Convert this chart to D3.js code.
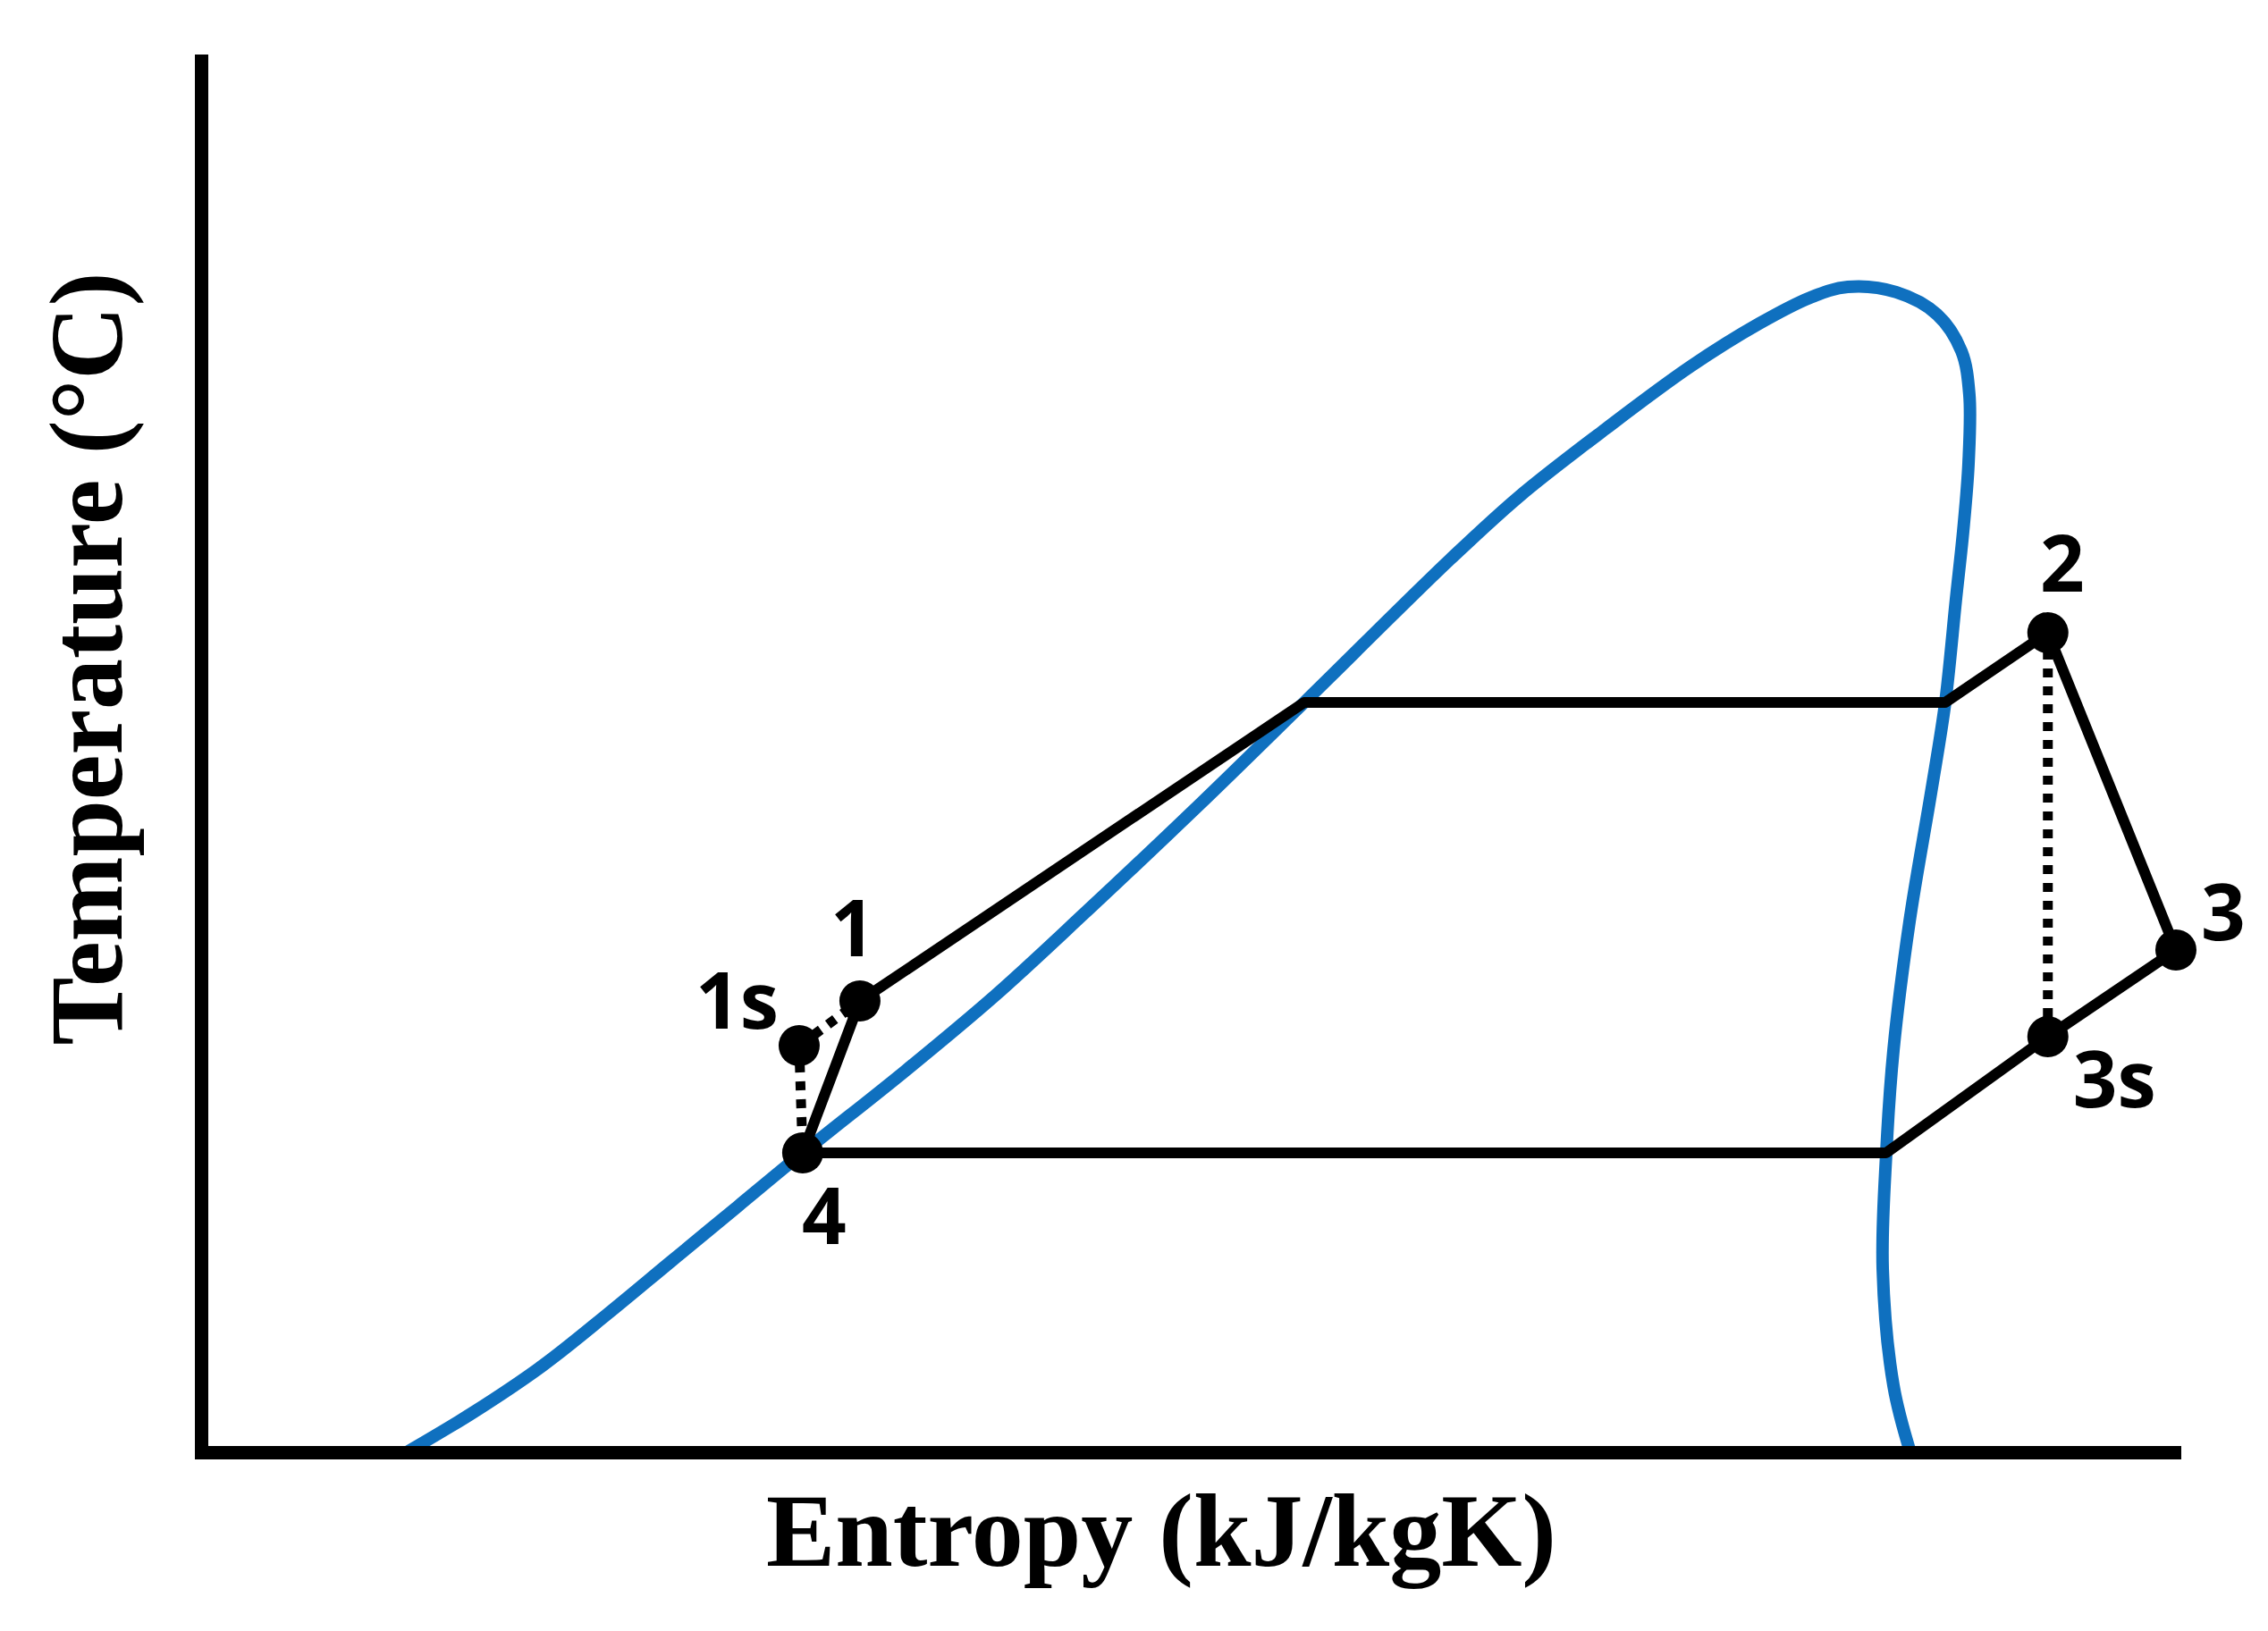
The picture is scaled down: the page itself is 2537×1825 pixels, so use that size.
<!DOCTYPE html>
<html>
<head>
<meta charset="utf-8">
<script src="https://cdn.jsdelivr.net/npm/d3@7"></script>
<style>
  body { margin: 0; background: #fff; }
</style>
</head>
<body>
<div id="chart"></div>
<script>
// T-s diagram, values (no ticks, so arbitrary units: axis origin = 0, ends = 100)

// saturation dome (liquid line up to the top, then vapour line down)
var domeEntropy = [10.42, 13.82, 17.31, 20.62, 23.79, 27.19, 30.49, 35.70, 40.24, 44.77, 50.52, 55.91, 63.30, 66.83, 71.18, 75.49, 78.98,
  81.56, 83.46, 85.91, 87.99, 89.22, 89.62, 89.58, 89.31, 88.94, 88.40, 87.68, 86.59, 85.78, 85.41, 85.23, 85.78, 86.63];
var domeTemp = [0, 2.89, 6.23, 9.96, 13.68, 17.66, 21.52, 27.42, 32.82, 38.73, 46.44, 53.89, 64.16, 68.72, 73.54, 78.03, 81.12,
  82.98, 83.75, 83.37, 81.76, 79.13, 76.04, 71.10, 66.22, 61.27, 53.89, 47.40, 38.15, 28.97, 21.52, 13.17, 4.75, 0];

// state points
var stateLabels = ["1", "1s", "2", "3", "3s", "4"];
var stateEntropy = [33.39, 30.31, 93.6, 100.09, 93.6, 30.49];
var stateTemp = [32.43, 29.22, 58.90, 36.10, 29.87, 21.52];

// real cycle: 4 -> 1 -> evaporator -> 2 -> 3 -> 3s -> condenser -> 4
var cycleEntropy = [30.49, 33.39, 55.91, 88.40, 93.6, 100.09, 93.6, 85.41, 30.49];
var cycleTemp = [21.52, 32.43, 53.89, 53.89, 58.90, 36.10, 29.87, 21.52, 21.52];

// isentropic (ideal) links, drawn dotted
var idealLinks = [["1s", "1"], ["1s", "4"], ["2", "3s"]];

var svgWidth = 2537;
var svgHeight = 1825;

var svg = d3.select("#chart")
  .append("svg")
  .attr("width", svgWidth)
  .attr("height", svgHeight)
  .style("background", "#fff");

var x = d3.scaleLinear().domain([0, 100]).range([225, 2432]);
var y = d3.scaleLinear().domain([0, 100]).range([1625, 68]);

// dome
var dome = domeEntropy.map((s, i) => [s, domeTemp[i]]);
var domeLine = d3.line()
  .x(d => x(d[0]))
  .y(d => y(d[1]))
  .curve(d3.curveCatmullRom.alpha(0.5));

svg.append("path")
  .datum(dome)
  .attr("d", domeLine)
  .attr("fill", "none")
  .attr("stroke", "#0f70bf")
  .attr("stroke-width", 14);

// cycle
var cycle = cycleEntropy.map((s, i) => [s, cycleTemp[i]]);
var cycleLine = d3.line()
  .x(d => x(d[0]))
  .y(d => y(d[1]));

svg.append("path")
  .datum(cycle)
  .attr("d", cycleLine)
  .attr("fill", "none")
  .attr("stroke", "#000")
  .attr("stroke-width", 12)
  .attr("stroke-linejoin", "round");

var states = stateLabels.map((name, i) => ({ name: name, s: stateEntropy[i], t: stateTemp[i] }));
var byName = {};
states.forEach(d => { byName[d.name] = d; });

svg.selectAll(".ideal")
  .data(idealLinks)
  .enter()
  .append("line")
  .attr("class", "ideal")
  .attr("x1", d => x(byName[d[0]].s))
  .attr("y1", d => y(byName[d[0]].t))
  .attr("x2", d => x(byName[d[1]].s))
  .attr("y2", d => y(byName[d[1]].t))
  .attr("stroke", "#000")
  .attr("stroke-width", 11)
  .attr("stroke-dasharray", "10,10");

// markers
svg.selectAll(".state")
  .data(states)
  .enter()
  .append("circle")
  .attr("class", "state")
  .attr("cx", d => x(d.s))
  .attr("cy", d => y(d.t))
  .attr("r", 23)
  .attr("fill", "#000");

// label placement relative to each marker
var labelStyle = {
  "1":  { dx: -8,  dy: -50, anchor: "middle" },
  "1s": { dx: -23, dy: -19, anchor: "end" },
  "2":  { dx: 16,  dy: -46, anchor: "middle" },
  "3":  { dx: 28,  dy: -11, anchor: "start" },
  "3s": { dx: 28,  dy: 79,  anchor: "start" },
  "4":  { dx: 24,  dy: 102, anchor: "middle" }
};

svg.selectAll(".stateLabel")
  .data(states)
  .enter()
  .append("text")
  .attr("class", "stateLabel")
  .attr("x", d => x(d.s) + labelStyle[d.name].dx)
  .attr("y", d => y(d.t) + labelStyle[d.name].dy)
  .attr("text-anchor", d => labelStyle[d.name].anchor)
  .attr("font-family", "'Open Sans', 'Noto Sans', sans-serif")
  .attr("font-weight", 700)
  .attr("font-size", 87)
  .attr("fill", "#000")
  .text(d => d.name);

// axes, no ticks
svg.append("g")
  .attr("transform", `translate(0, ${y(0)})`)
  .call(d3.axisBottom(x).tickValues([]).tickSizeOuter(0));
svg.append("g")
  .attr("transform", `translate(${x(0)}, 0)`)
  .call(d3.axisLeft(y).tickValues([]).tickSizeOuter(0));

svg.selectAll(".domain")
  .attr("stroke", "#000")
  .attr("stroke-width", 15)
  .attr("stroke-linecap", "square");

// titles
svg.append("text")
  .attr("x", 1299)
  .attr("y", 1752)
  .attr("text-anchor", "middle")
  .attr("font-family", "'Liberation Serif', 'Times New Roman', serif")
  .attr("font-weight", "bold")
  .attr("font-size", 116)
  .attr("textLength", 884)
  .attr("lengthAdjust", "spacingAndGlyphs")
  .text("Entropy (kJ/kgK)");

svg.append("text")
  .attr("transform", "translate(136, 737) rotate(-90)")
  .attr("text-anchor", "middle")
  .attr("font-family", "'Liberation Serif', 'Times New Roman', serif")
  .attr("font-weight", "bold")
  .attr("font-size", 116)
  .attr("textLength", 865)
  .attr("lengthAdjust", "spacingAndGlyphs")
  .text("Temperature (°C)");
</script>
</body>
</html>
